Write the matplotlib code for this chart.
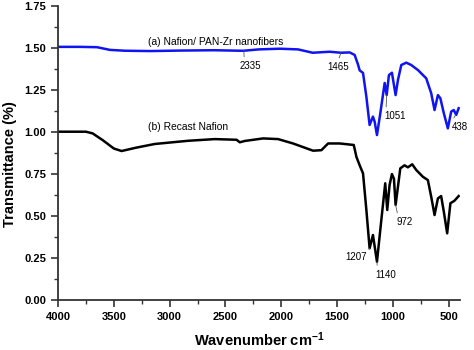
import matplotlib
matplotlib.use("Agg")
import matplotlib.pyplot as plt
from matplotlib.ticker import MultipleLocator, FormatStrFormatter

plt.rcParams['font.family'] = ['Liberation Sans', 'DejaVu Sans']
plt.rcParams['mathtext.fontset'] = 'custom'
plt.rcParams['mathtext.rm'] = 'Liberation Sans'
plt.rcParams['mathtext.bf'] = 'Liberation Sans:bold'
plt.rcParams['mathtext.default'] = 'bf'

# -------- data --------
wn_a = [4000, 3800, 3650, 3535, 3400, 3177, 2900, 2600, 2370, 2335, 2200, 2013,
        1850, 1718, 1566, 1465, 1387, 1342, 1312, 1297, 1267, 1237, 1208, 1178,
        1163, 1142, 1112, 1073, 1055, 1035, 1008, 975, 954, 924, 880, 835, 775,
        701, 656, 626, 596, 574, 543, 507, 477, 454, 432, 410]
tr_a = [1.505, 1.505, 1.503, 1.487, 1.482, 1.480, 1.483, 1.485, 1.482, 1.482,
        1.490, 1.494, 1.490, 1.470, 1.476, 1.470, 1.472, 1.457, 1.400, 1.365,
        1.350, 1.208, 1.040, 1.090, 1.060, 0.980, 1.110, 1.290, 1.218, 1.337,
        1.351, 1.218, 1.308, 1.397, 1.411, 1.397, 1.367, 1.318, 1.229, 1.129,
        1.218, 1.199, 1.110, 1.020, 1.120, 1.129, 1.100, 1.140]

wn_b = [4000, 3750, 3690, 3600, 3500, 3430, 3300, 3132, 2834, 2595, 2400, 2371,
        2326, 2162, 2028, 1894, 1715, 1640, 1580, 1476, 1350, 1326, 1297, 1267,
        1237, 1208, 1178, 1142, 1103, 1068, 1050, 1029, 1008, 990, 975, 954, 933,
        895, 865, 826, 790, 731, 686, 656, 626, 596, 567, 543, 513, 484, 448, 410]
tr_b = [1.000, 1.000, 0.990, 0.950, 0.900, 0.885, 0.905, 0.927, 0.946, 0.956,
        0.952, 0.937, 0.945, 0.960, 0.956, 0.930, 0.887, 0.890, 0.930, 0.930,
        0.921, 0.850, 0.800, 0.752, 0.534, 0.306, 0.385, 0.226, 0.474, 0.693,
        0.534, 0.683, 0.748, 0.720, 0.564, 0.673, 0.782, 0.800, 0.788, 0.806,
        0.772, 0.732, 0.712, 0.613, 0.504, 0.603, 0.617, 0.524, 0.395, 0.574,
        0.589, 0.617]

label_a = "(a) Nafion/ PAN-Zr nanofibers"
label_b = "(b) Recast Nafion"

# peak labels: (text, peak wavenumber, transmittance at peak, text position, leader anchor)
peaks = [
    ("2335", 2335, 1.482, (2273, 1.391), (0.2, 1.0)),
    ("1465", 1465, 1.470, (1494, 1.385), (0.5, 1.0)),
    ("1051", 1055, 1.218, (984, 1.093), (0.1, 1.0)),
    ("438", 438, 1.100, (400, 1.028), (0.0, 1.0)),
    ("1207", 1208, 0.306, (1333, 0.254), (1.0, 0.9)),
    ("1140", 1142, 0.226, (1064, 0.150), (0.1, 1.0)),
    ("972", 975, 0.564, (894, 0.463), (0.1, 1.0)),
]

# -------- plot --------
fig = plt.figure(figsize=(4.74, 3.5), dpi=100)
ax = fig.add_axes([0.1224, 0.1437, 0.8476, 0.84])

ax.plot(wn_a, tr_a, color='#0f14f0', lw=1.8)
ax.plot(wn_b, tr_b, color='black', lw=1.8)

ax.text(3195, 1.534, label_a, fontsize=7.4, va='center', ha='left')
ax.text(3195, 1.028, label_b, fontsize=7.4, va='center', ha='left')

for txt, x, y, pos, rp in peaks:
    ax.annotate(txt, xy=(x, y), xytext=pos, fontsize=7,
                ha='center', va='center', annotation_clip=False,
                arrowprops=dict(arrowstyle='-', color='#555555', lw=0.6,
                                relpos=rp, shrinkA=1, shrinkB=0))

ax.set_xlim(4000, 400)
ax.set_ylim(0, 1.75)
ax.xaxis.set_major_locator(MultipleLocator(500))
ax.xaxis.set_minor_locator(MultipleLocator(250))
ax.yaxis.set_major_locator(MultipleLocator(0.25))
ax.yaxis.set_minor_locator(MultipleLocator(0.125))
ax.yaxis.set_major_formatter(FormatStrFormatter('%.2f'))

ax.spines['top'].set_visible(False)
ax.spines['right'].set_visible(False)
for s in ('left', 'bottom'):
    ax.spines[s].set_linewidth(1.3)
    ax.spines[s].set_color('#333333')

ax.tick_params(which='major', length=5, width=1.2, color='#333333',
               labelsize=8)
ax.tick_params(which='minor', length=3, width=1.0, color='#333333')
for lab in ax.get_xticklabels() + ax.get_yticklabels():
    lab.set_fontweight('bold')

ax.set_xlabel(r"Wavenumber cm$^{-1}$", fontsize=10.5, fontweight='bold')
ax.xaxis.set_label_coords(0.5, -0.105)
ax.set_ylabel("Transmittance (%)", fontsize=10.5, fontweight='bold')
ax.yaxis.set_label_coords(-0.103, 0.46)

fig.savefig("out.png", dpi=100)
